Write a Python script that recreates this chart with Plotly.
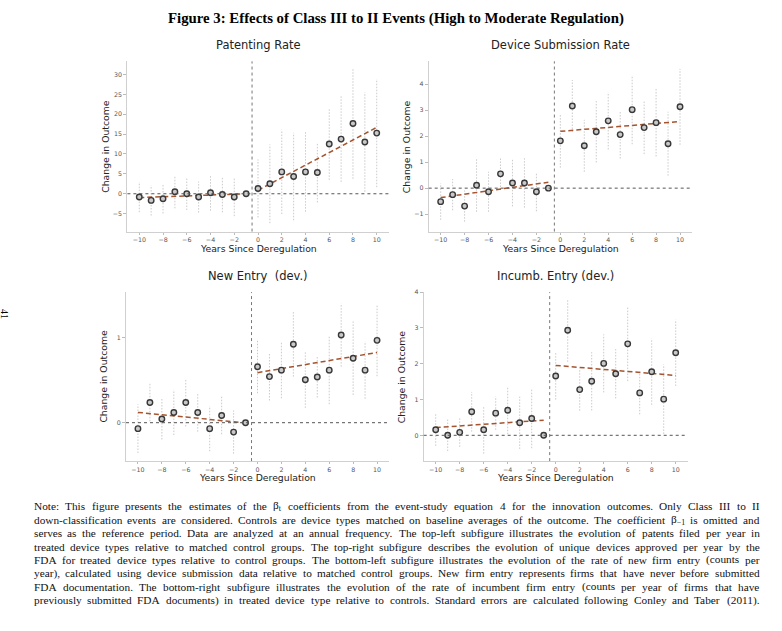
import numpy as np
import plotly.graph_objects as go

W, H = 782, 631

years = list(range(-10, 11))
xticks = [-10, -8, -6, -4, -2, 0, 2, 4, 6, 8, 10]

# ---- data (estimate, 95% CI half-width) ----
patent_est = [-0.83, -1.67, -1.25, 0.5, 0.0, -0.83, 0.25, -0.17, -0.83, 0.0,
              1.33, 2.5, 5.5, 4.33, 5.5, 5.33, 12.5, 13.75, 17.67, 13.0, 15.25]
patent_ci = [3.8, 3.8, 3.7, 4.15, 4.1, 3.9, 4.5, 4.5, 4.8, 0.0,
             7.3, 9.9, 10.6, 11.0, 10.0, 7.5, 9.0, 10.75, 13.9, 12.5, 13.6]

device_est = [-0.52, -0.25, -0.69, 0.11, -0.14, 0.55, 0.2, 0.2, -0.14, 0.0,
              1.82, 3.16, 1.63, 2.17, 2.59, 2.06, 3.02, 2.33, 2.52, 1.71, 3.13]
device_ci = [0.7, 0.6, 0.6, 1.02, 0.77, 0.62, 0.9, 0.95, 0.75, 0.0,
             1.03, 1.0, 1.0, 1.18, 1.1, 0.92, 1.33, 1.02, 1.3, 1.23, 1.46]

newentry_est = [-0.07, 0.236, 0.043, 0.12, 0.236, 0.12, -0.07, 0.085, -0.11, 0.0,
                0.655, 0.54, 0.616, 0.92, 0.504, 0.535, 0.616, 1.027, 0.756, 0.616, 0.965]
newentry_ci = [0.285, 0.22, 0.24, 0.265, 0.28, 0.225, 0.265, 0.22, 0.253, 0.0,
               0.31, 0.28, 0.33, 0.38, 0.33, 0.24, 0.4, 0.37, 0.43, 0.335, 0.42]

incumb_est = [0.157, 0.0, 0.083, 0.657, 0.157, 0.62, 0.70, 0.35, 0.47, 0.0,
              1.657, 2.935, 1.278, 1.51, 2.01, 1.72, 2.555, 1.185, 1.778, 1.01, 2.305]
incumb_ci = [0.45, 0.44, 0.405, 0.555, 0.67, 0.465, 0.67, 0.73, 0.83, 0.0,
             0.66, 0.88, 0.59, 0.815, 0.81, 0.69, 1.04, 0.6, 0.925, 0.97, 0.925]

panel_titles = ["Patenting Rate", "Device Submission Rate", "New Entry  (dev.)", "Incumb. Entry (dev.)"]
panel_yticks = [[-5, 0, 5, 10, 15, 20, 25, 30], [-1, 0, 1, 2, 3, 4], [0, 1], [0, 1, 2, 3, 4]]
panel_yrange = [[-9.5, 33.3], [-1.67, 4.88], [-0.45, 1.53], [-0.72, 4.0]]

fig_title = "Figure 3: Effects of Class III to II Events (High to Moderate Regulation)"
note_lines = [
    "Note:  This figure presents the estimates of the β<sub>t</sub> coefficients from the event-study equation 4 for the innovation outcomes.  Only Class III to II",
    "down-classification events are considered. Controls are device types matched on baseline averages of the outcome. The coefficient β<sub>−1</sub> is omitted and",
    "serves as the reference period. Data are analyzed at an annual frequency. The top-left subfigure illustrates the evolution of patents filed per year in",
    "treated device types relative to matched control groups. The top-right subfigure describes the evolution of unique devices approved per year by the",
    "FDA for treated device types relative to control groups. The bottom-left subfigure illustrates the evolution of the rate of new firm entry (counts per",
    "year), calculated using device submission data relative to matched control groups. New firm entry represents firms that have never before submitted",
    "FDA documentation.  The bottom-right subfigure illustrates the evolution of the rate of incumbent firm entry (counts per year of firms that have",
    "previously submitted FDA documents) in treated device type relative to controls. Standard errors are calculated following Conley and Taber (2011).",
]

panels = [
    (patent_est, patent_ci),
    (device_est, device_ci),
    (newentry_est, newentry_ci),
    (incumb_est, incumb_ci),
]

# ---- layout geometry (pixels) ----
boxes = [
    (127.4, 388.6, 57.7, 229.0),
    (428.7, 692.0, 57.7, 229.0),
    (126.0, 389.0, 290.0, 460.0),
    (423.7, 687.7, 290.0, 460.0),
]

def px(x):
    return x / W

def py(y):
    return 1 - y / H

SANS = "DejaVu Sans"
SERIF = "Liberation Serif"
TICKC = "#555555"

fig = go.Figure()
annotations = []
shapes = []

for i, ((est, ci), box) in enumerate(zip(panels, boxes)):
    n = i + 1
    xa = "x" if n == 1 else f"x{n}"
    ya = "y" if n == 1 else f"y{n}"
    est = np.array(est)
    ci = np.array(ci)
    yrs = np.array(years)

    # error bars (dotted)
    ex, ey = [], []
    for x, e, c in zip(yrs, est, ci):
        if c > 0:
            ex += [x, x, None]
            ey += [e - c, e + c, None]
    fig.add_trace(go.Scatter(x=ex, y=ey, mode="lines", xaxis=xa, yaxis=ya,
                             line=dict(color="#c4c4c4", width=0.9, dash="1.5px,1.5px"),
                             showlegend=False, hoverinfo="skip"))

    # linear trends pre / post
    for mask in (yrs < 0, yrs >= 0):
        xs = yrs[mask]
        b, a = np.polyfit(xs, est[mask], 1)
        xe = np.array([xs.min(), xs.max()])
        fig.add_trace(go.Scatter(x=xe, y=a + b * xe, mode="lines", xaxis=xa, yaxis=ya,
                                 line=dict(color="#a5542f", width=1.5, dash="5px,3px"),
                                 showlegend=False, hoverinfo="skip"))

    # point estimates
    fig.add_trace(go.Scatter(x=yrs, y=est, mode="markers", xaxis=xa, yaxis=ya,
                             marker=dict(symbol="circle", size=5.5, color="#c9c9c9",
                                         line=dict(color="#383838", width=1.4)),
                             showlegend=False))

    l, r, t, b_ = box
    xkey = "xaxis" if n == 1 else f"xaxis{n}"
    ykey = "yaxis" if n == 1 else f"yaxis{n}"
    fig.update_layout({
        xkey: dict(domain=[px(l), px(r)], range=[-11, 11], anchor=ya,
                   tickvals=xticks, ticktext=[str(v).replace("-", "−") for v in xticks],
                   showgrid=False, zeroline=False, showline=True, linecolor="#d0d0d0",
                   linewidth=1, ticks="outside", ticklen=2, tickcolor="#bbbbbb",
                   tickwidth=0.8, tickfont=dict(family=SANS, size=6.3, color=TICKC)),
        ykey: dict(domain=[py(b_), py(t)], range=panel_yrange[i], anchor=xa,
                   tickvals=panel_yticks[i],
                   ticktext=[str(v).replace("-", "−") for v in panel_yticks[i]],
                   showgrid=False, zeroline=False, showline=True, linecolor="#d0d0d0",
                   linewidth=1, ticks="outside", ticklen=3, tickcolor="#bbbbbb",
                   tickwidth=0.8, tickfont=dict(family=SANS, size=6.3, color=TICKC)),
    })

    # zero line and event line
    shapes.append(dict(type="line", xref=f"{xa} domain", yref=ya, x0=0, x1=1, y0=0, y1=0,
                       line=dict(color="#555555", width=1, dash="dot")))
    shapes.append(dict(type="line", xref=xa, yref=f"{ya} domain", x0=-0.5, x1=-0.5, y0=0, y1=1,
                       line=dict(color="#777777", width=1, dash="dot")))

    cx = (l + r) / 2
    annotations.append(dict(text=panel_titles[i], x=px(cx), y=py(t - 16), xref="paper", yref="paper",
                            showarrow=False, xanchor="center", yanchor="middle",
                            font=dict(family=SANS, size=11.5, color="#222222")))
    annotations.append(dict(text="Years Since Deregulation", x=px(cx), y=py(b_ + 17), xref="paper",
                            yref="paper", showarrow=False, xanchor="center", yanchor="middle",
                            font=dict(family=SANS, size=9.3, color="#222222")))
    annotations.append(dict(text="Change in Outcome", x=px(l - 22), y=py((t + b_) / 2), xref="paper",
                            yref="paper", showarrow=False, xanchor="center", yanchor="middle",
                            textangle=-90, font=dict(family=SANS, size=9.3, color="#222222")))

# ---- title ----
annotations.append(dict(text="<b>" + fig_title + "</b>", x=px(396), y=py(15), xref="paper", yref="paper",
                        showarrow=False, xanchor="center", yanchor="middle",
                        font=dict(family=SERIF, size=14.8, color="#000000")))

# ---- page number ----
annotations.append(dict(text="41", x=px(5), y=py(312), xref="paper", yref="paper", showarrow=False,
                        xanchor="center", yanchor="middle", textangle=90,
                        font=dict(family=SERIF, size=10, color="#000000")))

# ---- justified note (Times / Liberation Serif metrics) ----
TW = {' ': 250, '(': 333, ')': 333, ',': 250, '-': 333, '.': 250, ':': 278, '0': 500, '1': 500,
      '2': 500, '4': 500, 'A': 722, 'C': 667, 'D': 722, 'F': 556, 'I': 333, 'N': 722, 'O': 722,
      'S': 556, 'T': 611, 'a': 444, 'b': 500, 'c': 444, 'd': 500, 'e': 444, 'f': 333, 'g': 500,
      'h': 500, 'i': 278, 'j': 278, 'k': 500, 'l': 278, 'm': 778, 'n': 500, 'o': 500, 'p': 500,
      'q': 500, 'r': 333, 's': 389, 't': 278, 'u': 500, 'v': 500, 'w': 722, 'x': 500, 'y': 500,
      'z': 444, 'β': 500, '−': 564}

def word_w(word, size):
    tot = 0.0
    sub = False
    j = 0
    while j < len(word):
        if word.startswith("<sub>", j):
            sub = True
            j += 5
            continue
        if word.startswith("</sub>", j):
            sub = False
            j += 6
            continue
        ch = word[j]
        tot += TW.get(ch, 500) * (0.7 if sub else 1.0)
        j += 1
    return tot / 1000.0 * size

NL, NR = 32.5, 758.5
NOTE_SIZE = 11.3
for k, line in enumerate(note_lines):
    words = line.split()
    widths = [word_w(w, NOTE_SIZE) for w in words]
    gap = (NR - NL - sum(widths)) / (len(words) - 1)
    x = NL
    yline = 505.5 + k * 13.5
    for w, wd in zip(words, widths):
        annotations.append(dict(text=w, x=px(x - 1), y=py(yline), xref="paper", yref="paper",
                                showarrow=False, xanchor="left", yanchor="middle",
                                font=dict(family=SERIF, size=NOTE_SIZE, color="#111111")))
        x += wd + gap

fig.update_layout(
    width=W, height=H, margin=dict(l=0, r=0, t=0, b=0),
    paper_bgcolor="white", plot_bgcolor="white",
    annotations=annotations, shapes=shapes, showlegend=False,
)

fig.write_html("out.html",
               config={"displayModeBar": False},
               post_script="document.body.style.margin='0';document.body.style.padding='0';"
                           "document.body.style.overflow='hidden';")
